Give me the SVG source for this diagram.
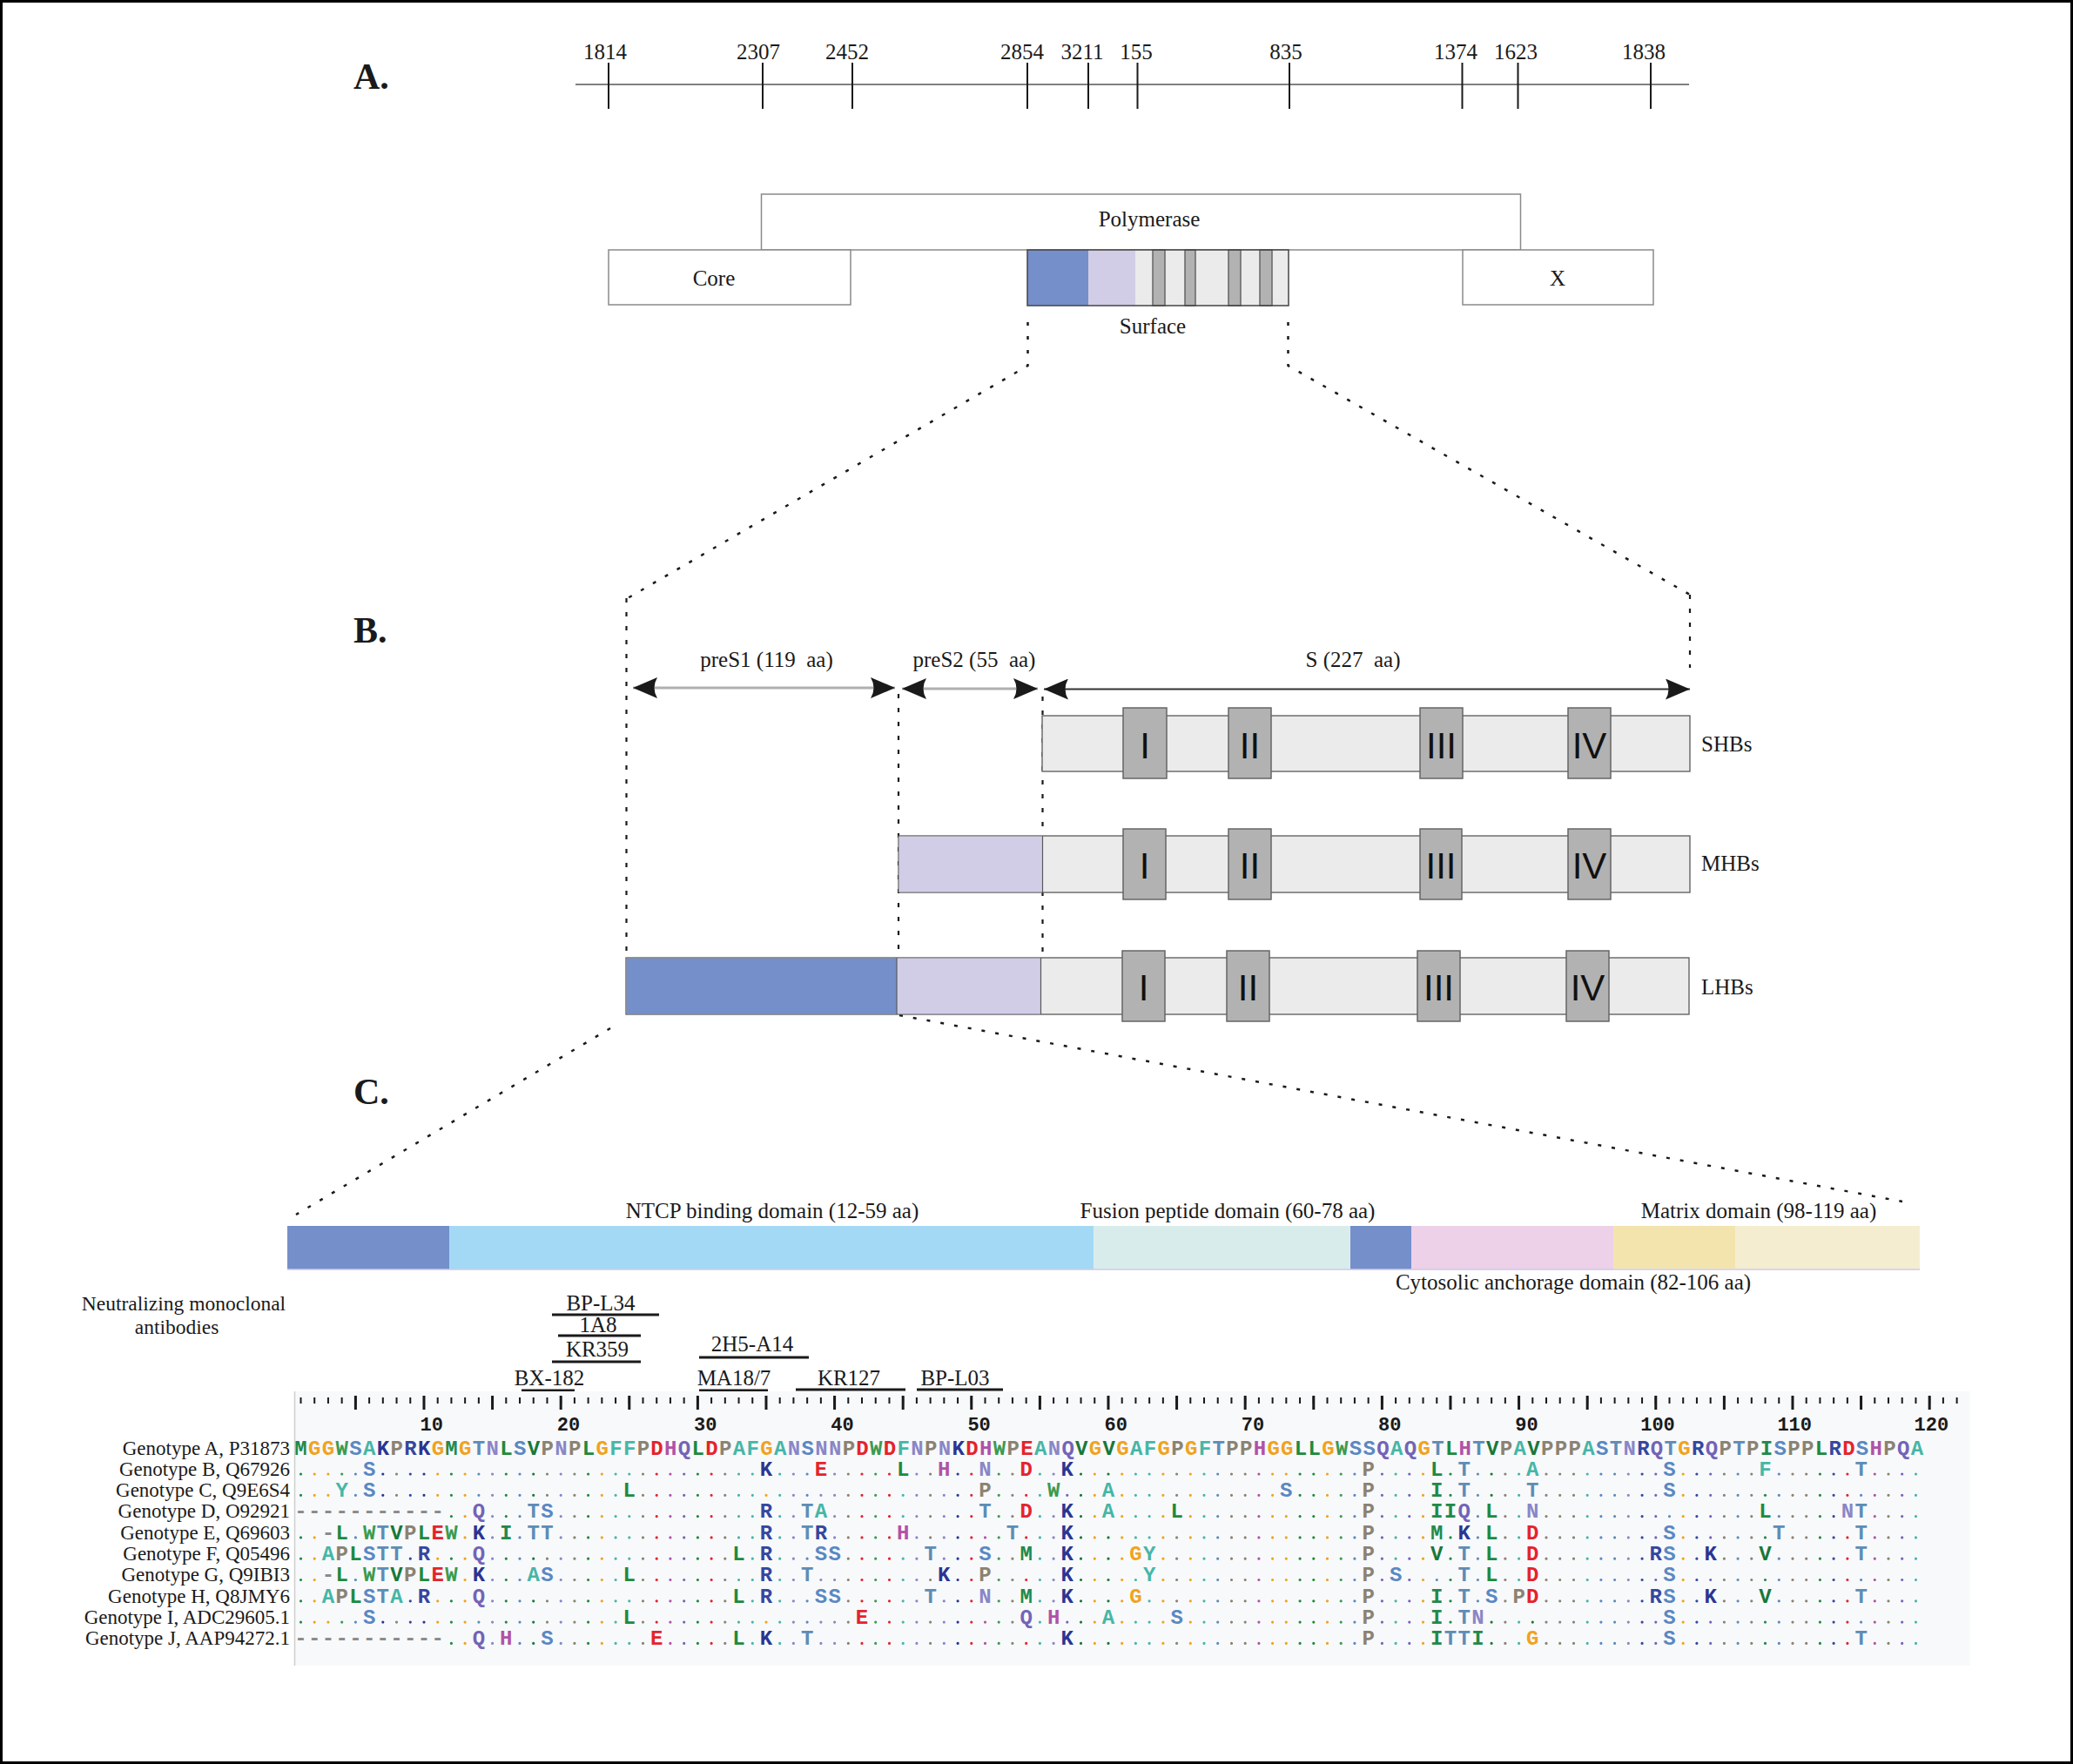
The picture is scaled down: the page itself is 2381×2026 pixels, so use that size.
<svg xmlns="http://www.w3.org/2000/svg" xmlns:xlink="http://www.w3.org/1999/xlink" width="2381" height="2026" viewBox="0 0 2381 2026">
<style>
.t{font-family:"Liberation Serif","Times New Roman",serif;fill:#1a1a1a;font-size:25px}
.tc{text-anchor:middle}
.te{text-anchor:end}
.hd{font-family:"Liberation Serif","Times New Roman",serif;font-weight:bold;font-size:42px;fill:#1a1a1a}
.rn{font-family:"Liberation Sans",Arial,sans-serif;font-size:42px;fill:#111;text-anchor:middle}
.box{fill:#fff;stroke:#8a8a8a;stroke-width:1.5}
.bar{fill:#ebebeb;stroke:#5a5a5a;stroke-width:1.3}
.tm{fill:#b2b2b2;stroke:#666;stroke-width:1.5}
.blue{fill:#748fca}
.lav{fill:#d1cde7}
.dot{fill:none;stroke:#1a1a1a;stroke-width:2.5;stroke-dasharray:4 12}
.dash{fill:none;stroke:#1a1a1a;stroke-width:2.2;stroke-dasharray:5 11}
.ab{stroke:#1a1a1a;stroke-width:3}
.seq{font-family:"Liberation Mono","DejaVu Sans Mono",monospace;font-weight:bold;font-size:24px}
.rowa{letter-spacing:1.32px}
.sub{text-anchor:middle}
.num{font-family:"Liberation Mono","DejaVu Sans Mono",monospace;font-weight:bold;font-size:22px;fill:#1a1a1a;text-anchor:end}
.lbl{font-family:"Liberation Serif","Times New Roman",serif;font-size:23px;fill:#1a1a1a;text-anchor:end}
.dots path{fill:none;stroke:currentColor;stroke-width:3.2;stroke-linecap:round}
.cov{fill:none;stroke:#f8f9fb;stroke-width:6;stroke-linecap:round}
.m{color:#1f8a4c;fill:currentColor}.g{color:#f0a31e;fill:currentColor}.w{color:#3b9b4f;fill:currentColor}
.s{color:#5a88c2;fill:currentColor}.a{color:#46b6a6;fill:currentColor}.k{color:#2a3592;fill:currentColor}
.p{color:#8b8272;fill:currentColor}.r{color:#34479f;fill:currentColor}.t2{color:#5d8db6;fill:currentColor}
.n{color:#8a86c6;fill:currentColor}.l{color:#1e8a3e;fill:currentColor}.v{color:#18783a;fill:currentColor}
.f{color:#45b7a8;fill:currentColor}.d{color:#e5232b;fill:currentColor}.h{color:#b052a6;fill:currentColor}
.q{color:#7363b6;fill:currentColor}.i{color:#22894a;fill:currentColor}.y{color:#45b7a8;fill:currentColor}
.gap{fill:#8a8a8a}
</style>
<defs>
<marker id="ah" viewBox="0 0 28 24" refX="28" refY="12" markerWidth="28" markerHeight="24" markerUnits="userSpaceOnUse" orient="auto-start-reverse">
<path d="M0 0L28 12L0 24Q7 12 0 0Z" fill="#1a1a1a"/>
</marker>
<g id="dotrow" class="dots">
<path class="m" d="M345.5-1.8h0M518.4-1.8h0"/>
<path class="g" d="M361.2-1.8h0M376.9-1.8h0M502.7-1.8h0M534.1-1.8h0M691.3-1.8h0M880-1.8h0M1257.3-1.8h0M1288.7-1.8h0M1335.9-1.8h0M1367.3-1.8h0M1461.6-1.8h0M1477.3-1.8h0M1524.5-1.8h0M1634.5-1.8h0M1933.2-1.8h0"/>
<path class="w" d="M392.7-1.8h0M1005.7-1.8h0M1147.2-1.8h0M1540.2-1.8h0"/>
<path class="s" d="M408.4-1.8h0M597-1.8h0M927.1-1.8h0M1555.9-1.8h0M1571.7-1.8h0M1838.9-1.8h0M2043.3-1.8h0M2137.6-1.8h0"/>
<path class="a" d="M424.1-1.8h0M848.5-1.8h0M895.7-1.8h0M1194.4-1.8h0M1304.4-1.8h0M1603.1-1.8h0M1744.6-1.8h0M1823.2-1.8h0M2200.5-1.8h0"/>
<path class="k" d="M439.8-1.8h0M487-1.8h0M1100.1-1.8h0"/>
<path class="p" d="M455.5-1.8h0M628.5-1.8h0M659.9-1.8h0M738.5-1.8h0M832.8-1.8h0M974.3-1.8h0M1068.6-1.8h0M1162.9-1.8h0M1351.6-1.8h0M1414.5-1.8h0M1430.2-1.8h0M1728.9-1.8h0M1776-1.8h0M1791.7-1.8h0M1807.5-1.8h0M1980.4-1.8h0M2011.8-1.8h0M2059-1.8h0M2074.7-1.8h0M2169-1.8h0"/>
<path class="r" d="M471.3-1.8h0M1886.1-1.8h0M1948.9-1.8h0M2106.1-1.8h0"/>
<path class="t2" d="M549.9-1.8h0M1398.7-1.8h0M1650.3-1.8h0M1697.4-1.8h0M1854.6-1.8h0M1917.5-1.8h0M1996.1-1.8h0"/>
<path class="n" d="M565.6-1.8h0M644.2-1.8h0M911.4-1.8h0M942.9-1.8h0M958.6-1.8h0M1052.9-1.8h0M1084.3-1.8h0M1210.1-1.8h0M1870.3-1.8h0"/>
<path class="l" d="M581.3-1.8h0M675.6-1.8h0M801.4-1.8h0M1493.1-1.8h0M1508.8-1.8h0M1666-1.8h0M2090.4-1.8h0"/>
<path class="v" d="M612.7-1.8h0M1241.5-1.8h0M1273-1.8h0M1713.1-1.8h0M1760.3-1.8h0"/>
<path class="f" d="M707.1-1.8h0M722.8-1.8h0M864.3-1.8h0M1037.2-1.8h0M1320.1-1.8h0M1383-1.8h0"/>
<path class="d" d="M754.2-1.8h0M817.1-1.8h0M990-1.8h0M1021.5-1.8h0M1115.8-1.8h0M2121.9-1.8h0M1178.7-1.8h0"/>
<path class="h" d="M769.9-1.8h0M1131.5-1.8h0M1445.9-1.8h0M1681.7-1.8h0M2153.3-1.8h0"/>
<path class="q" d="M785.7-1.8h0M1225.8-1.8h0M1587.4-1.8h0M1618.8-1.8h0M1901.8-1.8h0M1964.7-1.8h0M2184.7-1.8h0"/>
<path class="i" d="M2027.5-1.8h0"/>
</g>
</defs>

<rect x="1.5" y="1.5" width="2378" height="2023" fill="#fff" stroke="#000" stroke-width="3"/>

<!-- Section A -->
<text class="hd" x="406" y="102">A.</text>
<g id="genome-axis">
<path d="M661 97H1940" stroke="#808080" stroke-width="2"/>
<path d="M699 72V125M876 72V125M979 72V125M1180 72V125M1250 72V125M1306.5 72V125M1481 72V125M1679.5 72V125M1743.5 72V125M1896 72V125" stroke="#1a1a1a" stroke-width="2"/>
<text class="t tc" x="695" y="68">1814</text>
<text class="t tc" x="871" y="68">2307</text>
<text class="t tc" x="973" y="68">2452</text>
<text class="t tc" x="1174" y="68">2854</text>
<text class="t tc" x="1243" y="68">3211</text>
<text class="t tc" x="1305" y="68">155</text>
<text class="t tc" x="1477" y="68">835</text>
<text class="t tc" x="1672" y="68">1374</text>
<text class="t tc" x="1741" y="68">1623</text>
<text class="t tc" x="1888" y="68">1838</text>
</g>
<g id="polymerase"><rect class="box" x="874.5" y="223" width="872" height="64"/><text class="t tc" x="1320" y="260">Polymerase</text></g>
<g id="core"><rect class="box" x="699" y="287" width="278" height="63"/><text class="t tc" x="820" y="328">Core</text></g>
<g id="x"><rect class="box" x="1680" y="287" width="219" height="63"/><text class="t tc" x="1789" y="328">X</text></g>
<g id="surface">
<rect x="1180" y="287" width="300" height="64" fill="#ebebeb"/>
<rect class="blue" x="1180" y="287" width="70" height="64"/>
<rect class="lav" x="1250" y="287" width="54" height="64"/>
<rect class="tm" x="1324" y="287" width="14" height="64" stroke-width="1"/>
<rect class="tm" x="1361" y="287" width="12" height="64" stroke-width="1"/>
<rect class="tm" x="1411" y="287" width="14" height="64" stroke-width="1"/>
<rect class="tm" x="1447" y="287" width="14" height="64" stroke-width="1"/>
<rect x="1180" y="287" width="300" height="64" fill="none" stroke="#444" stroke-width="1.5"/>
<text class="t tc" x="1324" y="383">Surface</text>
</g>

<!-- Section B -->
<text class="hd" x="406" y="738">B.</text>
<g id="connectors">
<path class="dot" d="M1180.5 370V420L721 687"/>
<path class="dash" d="M719.5 687V1100"/>
<path class="dot" d="M1479.5 370V420L1941 683"/>
<path class="dash" d="M1941 683V767"/>
<path class="dash" d="M1032 797V1100"/>
<path class="dash" d="M1197.5 800V1100"/>
<path class="dot" d="M701 1181L340 1395"/>
<path class="dot" d="M1033 1166L2185 1380"/>
<path d="M727 790H1028" stroke="#b0b0b0" stroke-width="3" marker-start="url(#ah)" marker-end="url(#ah)"/>
<path d="M1036 791H1192" stroke="#b0b0b0" stroke-width="3" marker-start="url(#ah)" marker-end="url(#ah)"/>
<path d="M1199 791.5H1941" stroke="#333" stroke-width="2" marker-start="url(#ah)" marker-end="url(#ah)"/>
</g>
<g id="region-labels">
<text class="t tc" x="880.5" y="766" xml:space="preserve" style="white-space:pre">preS1 (119  aa)</text>
<text class="t tc" x="1119" y="766" xml:space="preserve" style="white-space:pre">preS2 (55  aa)</text>
<text class="t tc" x="1554" y="766" xml:space="preserve" style="white-space:pre">S (227  aa)</text>
</g>
<g id="shbs">
<rect class="bar" x="1197" y="822" width="744" height="64"/>
<rect class="tm" x="1290" y="813" width="50" height="81"/>
<rect class="tm" x="1411" y="813" width="49" height="81"/>
<rect class="tm" x="1631" y="813" width="49" height="81"/>
<rect class="tm" x="1801" y="813" width="49" height="81"/>
<text class="rn" x="1315" y="871">I</text><text class="rn" x="1435.5" y="871">II</text><text class="rn" x="1655.5" y="871">III</text><text class="rn" x="1825.5" y="871">IV</text>
<text class="t" x="1954" y="863">SHBs</text>
</g>
<g id="mhbs">
<rect class="bar" x="1032" y="960" width="909" height="65"/>
<rect class="lav" x="1032.7" y="960.7" width="164.5" height="63.6"/>
<path d="M1197.5 960V1025" stroke="#5a5a5a" stroke-width="1.2"/>
<rect class="tm" x="1290" y="952" width="49" height="81"/>
<rect class="tm" x="1411" y="952" width="49" height="81"/>
<rect class="tm" x="1631" y="952" width="48" height="81"/>
<rect class="tm" x="1801" y="952" width="49" height="81"/>
<text class="rn" x="1314.5" y="1009">I</text><text class="rn" x="1435.5" y="1009">II</text><text class="rn" x="1655" y="1009">III</text><text class="rn" x="1825.5" y="1009">IV</text>
<text class="t" x="1954" y="1000">MHBs</text>
</g>
<g id="lhbs">
<rect class="bar" x="719" y="1100" width="1221" height="65"/>
<rect class="blue" x="719.7" y="1100.7" width="310.3" height="63.6"/>
<rect class="lav" x="1030" y="1100.7" width="165.5" height="63.6"/>
<path d="M1030 1100V1165M1195.5 1100V1165" stroke="#5a5a5a" stroke-width="1.2"/>
<rect class="tm" x="1289" y="1092" width="49" height="81"/>
<rect class="tm" x="1409" y="1092" width="49" height="81"/>
<rect class="tm" x="1628" y="1092" width="49" height="81"/>
<rect class="tm" x="1799" y="1092" width="49" height="81"/>
<text class="rn" x="1313.5" y="1149">I</text><text class="rn" x="1433.5" y="1149">II</text><text class="rn" x="1652.5" y="1149">III</text><text class="rn" x="1823.5" y="1149">IV</text>
<text class="t" x="1954" y="1142">LHBs</text>
</g>

<!-- Section C -->
<text class="hd" x="406" y="1268">C.</text>
<g id="domain-bar">
<rect x="330" y="1408" width="186" height="50" fill="#748fca"/>
<rect x="516" y="1408" width="740" height="50" fill="#a4d9f5"/>
<rect x="1256" y="1408" width="295" height="50" fill="#d9ecec"/>
<rect x="1551" y="1408" width="70" height="50" fill="#748fca"/>
<rect x="1621" y="1408" width="232" height="50" fill="#edd1e8"/>
<rect x="1853" y="1408" width="140" height="49" fill="#f3e4ae"/>
<rect x="1993" y="1408" width="212" height="50" fill="#f4edd0"/>
<path d="M330 1458H2205" stroke="#cfc8e6" stroke-width="1.5"/>
<text class="t tc" x="887" y="1399">NTCP binding domain (12-59 aa)</text>
<text class="t tc" x="1410" y="1399">Fusion peptide domain (60-78 aa)</text>
<text class="t tc" x="2020" y="1399">Matrix domain (98-119 aa)</text>
<text class="t tc" x="1807" y="1481">Cytosolic anchorage domain (82-106 aa)</text>
</g>
<g id="antibodies">
<text class="t tc" x="211" y="1505" style="font-size:23.5px">Neutralizing monoclonal</text>
<text class="t tc" x="203" y="1532" style="font-size:23.5px">antibodies</text>
<g style="font-size:24px">
<text class="t tc" x="690" y="1505">BP-L34</text>
<text class="t tc" x="687" y="1530">1A8</text>
<text class="t tc" x="686" y="1558">KR359</text>
<text class="t tc" x="864" y="1552">2H5-A14</text>
<text class="t tc" x="631" y="1591">BX-182</text>
<text class="t tc" x="843" y="1591">MA18/7</text>
<text class="t tc" x="975" y="1591">KR127</text>
<text class="t tc" x="1097" y="1591">BP-L03</text>
</g>
<path class="ab" d="M634 1510H757M641 1534H736M634 1564H736M803 1559H929M599 1597H660M803 1597H882M914 1596H1040M1053 1596H1152"/>
</g>

<g id="alignment">
<rect x="338" y="1598" width="1925" height="315" fill="#f8f9fb"/>
<path d="M338.5 1598V1913" stroke="#cfcfcf" stroke-width="1.5"/>
<path d="M345.5 1605v7m15.72-7v7m15.72-7v7m15.72-7v7m15.72-7v7m15.72-7v7m15.72-7v7m15.72-7v7m15.72-7v7m15.72-7v7m15.72-7v7m15.72-7v7m15.72-7v7m15.72-7v7m15.72-7v7m15.72-7v7m15.72-7v7m15.72-7v7m15.72-7v7m15.72-7v7m15.72-7v7m15.72-7v7m15.72-7v7m15.72-7v7m15.72-7v7m15.72-7v7m15.72-7v7m15.72-7v7m15.72-7v7m15.72-7v7m15.72-7v7m15.72-7v7m15.72-7v7m15.72-7v7m15.72-7v7m15.72-7v7m15.72-7v7m15.72-7v7m15.72-7v7m15.72-7v7m15.72-7v7m15.72-7v7m15.72-7v7m15.72-7v7m15.72-7v7m15.72-7v7m15.72-7v7m15.72-7v7m15.72-7v7m15.72-7v7m15.72-7v7m15.72-7v7m15.72-7v7m15.72-7v7m15.72-7v7m15.72-7v7m15.72-7v7m15.72-7v7m15.72-7v7m15.72-7v7m15.72-7v7m15.72-7v7m15.72-7v7m15.72-7v7m15.72-7v7m15.72-7v7m15.72-7v7m15.72-7v7m15.72-7v7m15.72-7v7m15.72-7v7m15.72-7v7m15.72-7v7m15.72-7v7m15.72-7v7m15.72-7v7m15.72-7v7m15.72-7v7m15.72-7v7m15.72-7v7m15.72-7v7m15.72-7v7m15.72-7v7m15.72-7v7m15.72-7v7m15.72-7v7m15.72-7v7m15.72-7v7m15.72-7v7m15.72-7v7m15.72-7v7m15.72-7v7m15.72-7v7m15.72-7v7m15.72-7v7m15.72-7v7m15.72-7v7m15.72-7v7m15.72-7v7m15.72-7v7m15.72-7v7m15.72-7v7m15.72-7v7m15.72-7v7m15.72-7v7m15.72-7v7m15.72-7v7m15.72-7v7m15.72-7v7m15.72-7v7m15.72-7v7m15.72-7v7m15.72-7v7m15.72-7v7m15.72-7v7m15.72-7v7m15.72-7v7m15.72-7v7m15.72-7v7m15.72-7v7m15.72-7v7m15.72-7v7" stroke="#1a1a1a" stroke-width="2"/>
<path d="M408.38 1603v16m78.6-16v16m78.6-16v16m78.6-16v16m78.6-16v16m78.6-16v16m78.6-16v16m78.6-16v16m78.6-16v16m78.6-16v16m78.6-16v16m78.6-16v16m78.6-16v16m78.6-16v16m78.6-16v16m78.6-16v16m78.6-16v16m78.6-16v16m78.6-16v16m78.6-16v16m78.6-16v16m78.6-16v16m78.6-16v16m78.6-16v16" stroke="#1a1a1a" stroke-width="3"/>
<text class="num" x="509" y="1643">10</text><text class="num" x="666.2" y="1643">20</text><text class="num" x="823.4" y="1643">30</text><text class="num" x="980.6" y="1643">40</text><text class="num" x="1137.8" y="1643">50</text><text class="num" x="1295" y="1643">60</text><text class="num" x="1452.2" y="1643">70</text><text class="num" x="1609.4" y="1643">80</text><text class="num" x="1766.6" y="1643">90</text><text class="num" x="1923.8" y="1643">100</text><text class="num" x="2081" y="1643">110</text><text class="num" x="2238.2" y="1643">120</text>

<g id="labels">
<text class="lbl" x="333" y="1670.5">Genotype A, P31873</text>
<text class="lbl" x="333" y="1694.8">Genotype B, Q67926</text>
<text class="lbl" x="333" y="1719.1">Genotype C, Q9E6S4</text>
<text class="lbl" x="333" y="1743.4">Genotype D, O92921</text>
<text class="lbl" x="333" y="1767.7">Genotype E, Q69603</text>
<text class="lbl" x="333" y="1792">Genotype F, Q05496</text>
<text class="lbl" x="333" y="1816.3">Genotype G, Q9IBI3</text>
<text class="lbl" x="333" y="1840.6">Genotype H, Q8JMY6</text>
<text class="lbl" x="333" y="1864.9">Genotype I, ADC29605.1</text>
<text class="lbl" x="333" y="1889.2">Genotype J, AAP94272.1</text>
</g>

<g id="rowA"><text class="seq rowa" x="338.3" y="1670.5"><tspan class="m">M</tspan><tspan class="g">GG</tspan><tspan class="w">W</tspan><tspan class="s">S</tspan><tspan class="a">A</tspan><tspan class="k">K</tspan><tspan class="p">P</tspan><tspan class="r">R</tspan><tspan class="k">K</tspan><tspan class="g">G</tspan><tspan class="m">M</tspan><tspan class="g">G</tspan><tspan class="t2">T</tspan><tspan class="n">N</tspan><tspan class="l">L</tspan><tspan class="s">S</tspan><tspan class="v">V</tspan><tspan class="p">P</tspan><tspan class="n">N</tspan><tspan class="p">P</tspan><tspan class="l">L</tspan><tspan class="g">G</tspan><tspan class="f">FF</tspan><tspan class="p">P</tspan><tspan class="d">D</tspan><tspan class="h">H</tspan><tspan class="q">Q</tspan><tspan class="l">L</tspan><tspan class="d">D</tspan><tspan class="p">P</tspan><tspan class="a">A</tspan><tspan class="f">F</tspan><tspan class="g">G</tspan><tspan class="a">A</tspan><tspan class="n">N</tspan><tspan class="s">S</tspan><tspan class="n">NN</tspan><tspan class="p">P</tspan><tspan class="d">D</tspan><tspan class="w">W</tspan><tspan class="d">D</tspan><tspan class="f">F</tspan><tspan class="n">N</tspan><tspan class="p">P</tspan><tspan class="n">N</tspan><tspan class="k">K</tspan><tspan class="d">D</tspan><tspan class="h">H</tspan><tspan class="w">W</tspan><tspan class="p">P</tspan><tspan class="d">E</tspan><tspan class="a">A</tspan><tspan class="n">N</tspan><tspan class="q">Q</tspan><tspan class="v">V</tspan><tspan class="g">G</tspan><tspan class="v">V</tspan><tspan class="g">G</tspan><tspan class="a">A</tspan><tspan class="f">F</tspan><tspan class="g">G</tspan><tspan class="p">P</tspan><tspan class="g">G</tspan><tspan class="f">F</tspan><tspan class="t2">T</tspan><tspan class="p">PP</tspan><tspan class="h">H</tspan><tspan class="g">GG</tspan><tspan class="l">LL</tspan><tspan class="g">G</tspan><tspan class="w">W</tspan><tspan class="s">SS</tspan><tspan class="q">Q</tspan><tspan class="a">A</tspan><tspan class="q">Q</tspan><tspan class="g">G</tspan><tspan class="t2">T</tspan><tspan class="l">L</tspan><tspan class="h">H</tspan><tspan class="t2">T</tspan><tspan class="v">V</tspan><tspan class="p">P</tspan><tspan class="a">A</tspan><tspan class="v">V</tspan><tspan class="p">PPP</tspan><tspan class="a">A</tspan><tspan class="s">S</tspan><tspan class="t2">T</tspan><tspan class="n">N</tspan><tspan class="r">R</tspan><tspan class="q">Q</tspan><tspan class="t2">T</tspan><tspan class="g">G</tspan><tspan class="r">R</tspan><tspan class="q">Q</tspan><tspan class="p">P</tspan><tspan class="t2">T</tspan><tspan class="p">P</tspan><tspan class="i">I</tspan><tspan class="s">S</tspan><tspan class="p">PP</tspan><tspan class="l">L</tspan><tspan class="r">R</tspan><tspan class="d">D</tspan><tspan class="s">S</tspan><tspan class="h">H</tspan><tspan class="p">P</tspan><tspan class="q">Q</tspan><tspan class="a">A</tspan></text></g>

<g id="rowB" transform="translate(0 1694.8)"><use href="#dotrow"/>
<path class="cov" d="M424.1-1.8h0M880-1.8h0M942.9-1.8h0M1037.2-1.8h0M1084.3-1.8h0M1131.5-1.8h0M1178.7-1.8h0M1225.8-1.8h0M1571.7-1.8h0M1650.3-1.8h0M1681.7-1.8h0M1760.3-1.8h0M1917.5-1.8h0M2027.5-1.8h0M2137.6-1.8h0"/>
<text class="seq sub"><tspan x="424.1" class="s">S</tspan><tspan x="880" class="k">K</tspan><tspan x="942.9" class="d">E</tspan><tspan x="1037.2" class="l">L</tspan><tspan x="1084.3" class="h">H</tspan><tspan x="1131.5" class="n">N</tspan><tspan x="1178.7" class="d">D</tspan><tspan x="1225.8" class="k">K</tspan><tspan x="1571.7" class="p">P</tspan><tspan x="1650.3" class="l">L</tspan><tspan x="1681.7" class="t2">T</tspan><tspan x="1760.3" class="a">A</tspan><tspan x="1917.5" class="s">S</tspan><tspan x="2027.5" class="f">F</tspan><tspan x="2137.6" class="t2">T</tspan></text></g>

<g id="rowC" transform="translate(0 1719.1)"><use href="#dotrow"/>
<path class="cov" d="M392.7-1.8h0M424.1-1.8h0M722.8-1.8h0M1131.5-1.8h0M1210.1-1.8h0M1273-1.8h0M1477.3-1.8h0M1571.7-1.8h0M1650.3-1.8h0M1681.7-1.8h0M1760.3-1.8h0M1917.5-1.8h0"/>
<text class="seq sub"><tspan x="392.7" class="y">Y</tspan><tspan x="424.1" class="s">S</tspan><tspan x="722.8" class="l">L</tspan><tspan x="1131.5" class="p">P</tspan><tspan x="1210.1" class="w">W</tspan><tspan x="1273" class="a">A</tspan><tspan x="1477.3" class="s">S</tspan><tspan x="1571.7" class="p">P</tspan><tspan x="1650.3" class="i">I</tspan><tspan x="1681.7" class="t2">T</tspan><tspan x="1760.3" class="t2">T</tspan><tspan x="1917.5" class="s">S</tspan></text></g>

<g id="rowD" transform="translate(0 1743.4)"><use href="#dotrow"/>
<path class="cov" d="M345.5-1.8H502.7M549.9-1.8h0M612.7-1.8h0M628.5-1.8h0M880-1.8h0M927.1-1.8h0M942.9-1.8h0M1131.5-1.8h0M1178.7-1.8h0M1225.8-1.8h0M1273-1.8h0M1351.6-1.8h0M1571.7-1.8h0M1650.3-1.8h0M1666-1.8h0M1681.7-1.8h0M1713.1-1.8h0M1760.3-1.8h0M2027.5-1.8h0M2121.9-1.8h0M2137.6-1.8h0"/>
<text class="seq sub"><tspan class="gap" x="345.5 361.2 376.9 392.7 408.4 424.1 439.8 455.5 471.3 487 502.7">-----------</tspan><tspan x="549.9" class="q">Q</tspan><tspan x="612.7" class="t2">T</tspan><tspan x="628.5" class="s">S</tspan><tspan x="880" class="r">R</tspan><tspan x="927.1" class="t2">T</tspan><tspan x="942.9" class="a">A</tspan><tspan x="1131.5" class="t2">T</tspan><tspan x="1178.7" class="d">D</tspan><tspan x="1225.8" class="k">K</tspan><tspan x="1273" class="a">A</tspan><tspan x="1351.6" class="l">L</tspan><tspan x="1571.7" class="p">P</tspan><tspan x="1650.3" class="i">I</tspan><tspan x="1666" class="i">I</tspan><tspan x="1681.7" class="q">Q</tspan><tspan x="1713.1" class="l">L</tspan><tspan x="1760.3" class="n">N</tspan><tspan x="2027.5" class="l">L</tspan><tspan x="2121.9" class="n">N</tspan><tspan x="2137.6" class="t2">T</tspan></text></g>

<g id="rowE" transform="translate(0 1767.7)"><use href="#dotrow"/>
<path class="cov" d="M376.9-1.8H518.4M549.9-1.8h0M581.3-1.8h0M612.7-1.8h0M628.5-1.8h0M880-1.8h0M927.1-1.8h0M942.9-1.8h0M1037.2-1.8h0M1162.9-1.8h0M1225.8-1.8h0M1571.7-1.8h0M1650.3-1.8h0M1681.7-1.8h0M1713.1-1.8h0M1760.3-1.8h0M1917.5-1.8h0M2043.3-1.8h0M2137.6-1.8h0"/>
<path d="M408.4-1.8h0" style="fill:none;stroke:#5a88c2;stroke-width:3.2;stroke-linecap:round"/>
<text class="seq sub"><tspan x="376.9" class="gap">-</tspan><tspan x="392.7" class="l">L</tspan><tspan x="424.1" class="w">W</tspan><tspan x="439.8" class="t2">T</tspan><tspan x="455.5" class="v">V</tspan><tspan x="471.3" class="p">P</tspan><tspan x="487" class="l">L</tspan><tspan x="502.7" class="d">E</tspan><tspan x="518.4" class="w">W</tspan><tspan x="549.9" class="k">K</tspan><tspan x="581.3" class="i">I</tspan><tspan x="612.7" class="t2">T</tspan><tspan x="628.5" class="t2">T</tspan><tspan x="880" class="r">R</tspan><tspan x="927.1" class="t2">T</tspan><tspan x="942.9" class="r">R</tspan><tspan x="1037.2" class="h">H</tspan><tspan x="1162.9" class="t2">T</tspan><tspan x="1225.8" class="k">K</tspan><tspan x="1571.7" class="p">P</tspan><tspan x="1650.3" class="m">M</tspan><tspan x="1681.7" class="k">K</tspan><tspan x="1713.1" class="l">L</tspan><tspan x="1760.3" class="d">D</tspan><tspan x="1917.5" class="s">S</tspan><tspan x="2043.3" class="t2">T</tspan><tspan x="2137.6" class="t2">T</tspan></text></g>

<g id="rowF" transform="translate(0 1792)"><use href="#dotrow"/>
<path class="cov" d="M376.9-1.8H455.5M487-1.8h0M549.9-1.8h0M848.5-1.8h0M880-1.8h0M942.9-1.8H958.6M1068.6-1.8h0M1131.5-1.8h0M1178.7-1.8h0M1225.8-1.8h0M1304.4-1.8H1320.1M1571.7-1.8h0M1650.3-1.8h0M1681.7-1.8h0M1713.1-1.8h0M1760.3-1.8h0M1901.8-1.8H1917.5M1964.7-1.8h0M2027.5-1.8h0M2137.6-1.8h0"/>
<text class="seq sub"><tspan x="376.9" class="a">A</tspan><tspan x="392.7" class="p">P</tspan><tspan x="408.4" class="l">L</tspan><tspan x="424.1" class="s">S</tspan><tspan x="439.8" class="t2">T</tspan><tspan x="455.5" class="t2">T</tspan><tspan x="487" class="r">R</tspan><tspan x="549.9" class="q">Q</tspan><tspan x="848.5" class="l">L</tspan><tspan x="880" class="r">R</tspan><tspan x="942.9" class="s">S</tspan><tspan x="958.6" class="s">S</tspan><tspan x="1068.6" class="t2">T</tspan><tspan x="1131.5" class="s">S</tspan><tspan x="1178.7" class="m">M</tspan><tspan x="1225.8" class="k">K</tspan><tspan x="1304.4" class="g">G</tspan><tspan x="1320.1" class="y">Y</tspan><tspan x="1571.7" class="p">P</tspan><tspan x="1650.3" class="v">V</tspan><tspan x="1681.7" class="t2">T</tspan><tspan x="1713.1" class="l">L</tspan><tspan x="1760.3" class="d">D</tspan><tspan x="1901.8" class="r">R</tspan><tspan x="1917.5" class="s">S</tspan><tspan x="1964.7" class="k">K</tspan><tspan x="2027.5" class="v">V</tspan><tspan x="2137.6" class="t2">T</tspan></text></g>

<g id="rowG" transform="translate(0 1816.3)"><use href="#dotrow"/>
<path class="cov" d="M376.9-1.8H518.4M549.9-1.8h0M612.7-1.8h0M628.5-1.8h0M722.8-1.8h0M880-1.8h0M927.1-1.8h0M1084.3-1.8h0M1131.5-1.8h0M1225.8-1.8h0M1320.1-1.8h0M1571.7-1.8h0M1603.1-1.8h0M1681.7-1.8h0M1713.1-1.8h0M1760.3-1.8h0M1917.5-1.8h0"/>
<path d="M408.4-1.8h0" style="fill:none;stroke:#5a88c2;stroke-width:3.2;stroke-linecap:round"/>
<text class="seq sub"><tspan x="376.9" class="gap">-</tspan><tspan x="392.7" class="l">L</tspan><tspan x="424.1" class="w">W</tspan><tspan x="439.8" class="t2">T</tspan><tspan x="455.5" class="v">V</tspan><tspan x="471.3" class="p">P</tspan><tspan x="487" class="l">L</tspan><tspan x="502.7" class="d">E</tspan><tspan x="518.4" class="w">W</tspan><tspan x="549.9" class="k">K</tspan><tspan x="612.7" class="a">A</tspan><tspan x="628.5" class="s">S</tspan><tspan x="722.8" class="l">L</tspan><tspan x="880" class="r">R</tspan><tspan x="927.1" class="t2">T</tspan><tspan x="1084.3" class="k">K</tspan><tspan x="1131.5" class="p">P</tspan><tspan x="1225.8" class="k">K</tspan><tspan x="1320.1" class="y">Y</tspan><tspan x="1571.7" class="p">P</tspan><tspan x="1603.1" class="s">S</tspan><tspan x="1681.7" class="t2">T</tspan><tspan x="1713.1" class="l">L</tspan><tspan x="1760.3" class="d">D</tspan><tspan x="1917.5" class="s">S</tspan></text></g>

<g id="rowH" transform="translate(0 1840.6)"><use href="#dotrow"/>
<path class="cov" d="M376.9-1.8H455.5M487-1.8h0M549.9-1.8h0M848.5-1.8h0M880-1.8h0M942.9-1.8H958.6M1068.6-1.8h0M1131.5-1.8h0M1178.7-1.8h0M1225.8-1.8h0M1304.4-1.8h0M1571.7-1.8h0M1650.3-1.8h0M1681.7-1.8h0M1713.1-1.8h0M1744.6-1.8H1760.3M1901.8-1.8H1917.5M1964.7-1.8h0M2027.5-1.8h0M2137.6-1.8h0"/>
<text class="seq sub"><tspan x="376.9" class="a">A</tspan><tspan x="392.7" class="p">P</tspan><tspan x="408.4" class="l">L</tspan><tspan x="424.1" class="s">S</tspan><tspan x="439.8" class="t2">T</tspan><tspan x="455.5" class="a">A</tspan><tspan x="487" class="r">R</tspan><tspan x="549.9" class="q">Q</tspan><tspan x="848.5" class="l">L</tspan><tspan x="880" class="r">R</tspan><tspan x="942.9" class="s">S</tspan><tspan x="958.6" class="s">S</tspan><tspan x="1068.6" class="t2">T</tspan><tspan x="1131.5" class="n">N</tspan><tspan x="1178.7" class="m">M</tspan><tspan x="1225.8" class="k">K</tspan><tspan x="1304.4" class="g">G</tspan><tspan x="1571.7" class="p">P</tspan><tspan x="1650.3" class="i">I</tspan><tspan x="1681.7" class="t2">T</tspan><tspan x="1713.1" class="s">S</tspan><tspan x="1744.6" class="p">P</tspan><tspan x="1760.3" class="d">D</tspan><tspan x="1901.8" class="r">R</tspan><tspan x="1917.5" class="s">S</tspan><tspan x="1964.7" class="k">K</tspan><tspan x="2027.5" class="v">V</tspan><tspan x="2137.6" class="t2">T</tspan></text></g>

<g id="rowI" transform="translate(0 1864.9)"><use href="#dotrow"/>
<path class="cov" d="M424.1-1.8h0M722.8-1.8h0M990-1.8h0M1178.7-1.8h0M1210.1-1.8h0M1273-1.8h0M1351.6-1.8h0M1571.7-1.8h0M1650.3-1.8h0M1681.7-1.8H1697.4M1917.5-1.8h0"/>
<text class="seq sub"><tspan x="424.1" class="s">S</tspan><tspan x="722.8" class="l">L</tspan><tspan x="990" class="d">E</tspan><tspan x="1178.7" class="q">Q</tspan><tspan x="1210.1" class="h">H</tspan><tspan x="1273" class="a">A</tspan><tspan x="1351.6" class="s">S</tspan><tspan x="1571.7" class="p">P</tspan><tspan x="1650.3" class="i">I</tspan><tspan x="1681.7" class="t2">T</tspan><tspan x="1697.4" class="n">N</tspan><tspan x="1917.5" class="s">S</tspan></text></g>

<g id="rowJ" transform="translate(0 1889.2)"><use href="#dotrow"/>
<path class="cov" d="M345.5-1.8H502.7M549.9-1.8h0M581.3-1.8h0M628.5-1.8h0M754.2-1.8h0M848.5-1.8h0M880-1.8h0M927.1-1.8h0M1225.8-1.8h0M1571.7-1.8h0M1650.3-1.8H1697.4M1760.3-1.8h0M1917.5-1.8h0M2137.6-1.8h0"/>
<text class="seq sub"><tspan class="gap" x="345.5 361.2 376.9 392.7 408.4 424.1 439.8 455.5 471.3 487 502.7">-----------</tspan><tspan x="549.9" class="q">Q</tspan><tspan x="581.3" class="h">H</tspan><tspan x="628.5" class="s">S</tspan><tspan x="754.2" class="d">E</tspan><tspan x="848.5" class="l">L</tspan><tspan x="880" class="k">K</tspan><tspan x="927.1" class="t2">T</tspan><tspan x="1225.8" class="k">K</tspan><tspan x="1571.7" class="p">P</tspan><tspan x="1650.3" class="i">I</tspan><tspan x="1666" class="t2">T</tspan><tspan x="1681.7" class="t2">T</tspan><tspan x="1697.4" class="i">I</tspan><tspan x="1760.3" class="g">G</tspan><tspan x="1917.5" class="s">S</tspan><tspan x="2137.6" class="t2">T</tspan></text></g>
</g>
</svg>
